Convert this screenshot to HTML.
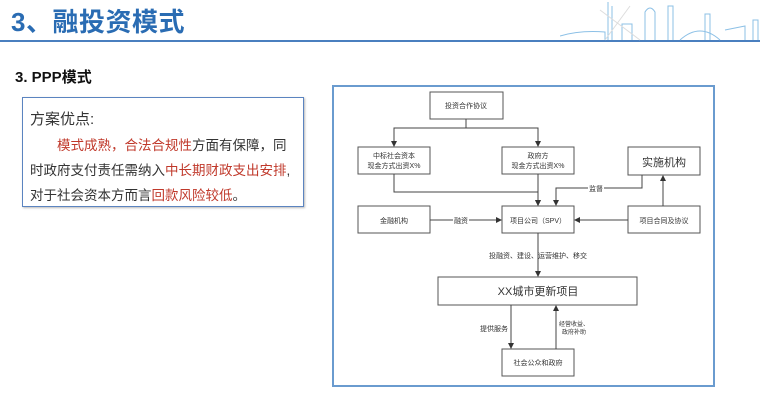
<!DOCTYPE html>
<html><head><meta charset="utf-8"><style>
body{margin:0;width:760px;height:419px;background:#fff;position:relative;overflow:hidden;font-family:"Liberation Sans","Noto Sans CJK SC",sans-serif}
.t{position:absolute;left:11px;top:2px;font-size:26px;font-weight:bold;color:#2a6cb3;letter-spacing:0.5px;white-space:nowrap}
.hl{position:absolute;left:0;top:40px;width:760px;height:2px;background:#4a7fbf}
.s{position:absolute;left:15px;top:66px;font-size:15px;font-weight:bold;color:#111;white-space:nowrap}
.b{position:absolute;left:22px;top:97px;width:280px;height:108px;border:1px solid #5b84c0;box-shadow:1px 1px 2px #bbb}
.b div{position:absolute;left:7px;font-size:13.5px;color:#333;white-space:nowrap}
.r{color:#c0392b}
</style></head><body>
<div class="t">3、融投资模式</div>
<div class="hl"></div>
<svg style="position:absolute;left:560px;top:0" width="200" height="42" viewBox="0 0 200 42" fill="none" stroke="#8cc0e6" stroke-width="1">
<path d="M0 36 Q20 30 45 32 L45 40"/><path d="M48 40 L48 2 M52 40 L52 6"/><path d="M62 40 L62 24 L72 24 L72 40"/><path d="M85 40 L85 12 Q90 4 95 12 L95 40"/><path d="M108 40 L108 6 L113 6 L113 40"/><path d="M120 40 Q140 22 160 40"/><path d="M145 40 L145 14 L150 14 L150 40"/><path d="M165 30 L185 26 L185 40"/><path d="M193 40 L193 20 L198 20 L198 40"/>
<path d="M40 10 L80 40 M70 6 L45 40" stroke="#ddd"/>
</svg>
<div class="s">3. PPP模式</div>
<div class="b">
<div style="top:10px;font-size:15px">方案优点:</div>
<div style="top:36px">　　<span class="r">模式成熟，合法合规性</span>方面有保障，同</div>
<div style="top:61px">时政府支付责任需纳入<span class="r">中长期财政支出安排</span>,</div>
<div style="top:86px">对于社会资本方而言<span class="r">回款风险较低</span>。</div>
</div>
<svg style="position:absolute;left:0;top:0" width="760" height="419" font-family="Liberation Sans,Noto Sans CJK SC,sans-serif">
<defs><marker id="a" markerWidth="6" markerHeight="6" refX="5" refY="3" orient="auto"><path d="M0 0 L6 3 L0 6z" fill="#333"/></marker></defs>
<rect x="333" y="86" width="381" height="300" fill="#fff" stroke="#6a9bcf" stroke-width="2"/>
<g fill="#fff" stroke="#555" stroke-width="1">
<rect x="430" y="92" width="73" height="27"/>
<rect x="358" y="147" width="72" height="27"/>
<rect x="502" y="147" width="72" height="27"/>
<rect x="628" y="147" width="72" height="28"/>
<rect x="358" y="206" width="72" height="27"/>
<rect x="502" y="206" width="72" height="27"/>
<rect x="628" y="206" width="72" height="27"/>
<rect x="438" y="277" width="199" height="28"/>
<rect x="502" y="349" width="72" height="27"/>
</g>
<g stroke="#444" stroke-width="1" fill="none" marker-end="url(#a)">
<path d="M466 119 V128 H394 V146"/>
<path d="M466 128 H538 V146"/>
<path d="M394 174 V192 H538 V205"/>
<path d="M538 174 V205"/>
<path d="M642 175 V188 H556 V205"/>
<path d="M663 206 V176"/>
<path d="M430 220 H501"/>
<path d="M628 220 H575"/>
<path d="M538 233 V276"/>
<path d="M511 305 V348"/>
<path d="M556 349 V306"/>
</g>
<g font-size="7" fill="#333" text-anchor="middle">
<text x="466" y="108">投资合作协议</text>
<text x="394" y="158">中标社会资本</text><text x="394" y="168">现金方式出资X%</text>
<text x="538" y="158">政府方</text><text x="538" y="168">现金方式出资X%</text>
<text x="394" y="223">金融机构</text>
<text x="538" y="223">项目公司（SPV）</text>
<text x="664" y="223">项目合同及协议</text>
<rect x="453" y="214" width="16" height="10" fill="#fff"/><text x="461" y="223">融资</text>
<rect x="588" y="183" width="16" height="10" fill="#fff"/><text x="596" y="191">监督</text>
<text x="538" y="258">投融资、建设、运营维护、移交</text>
<text x="494" y="331">提供服务</text>
<text x="574" y="326" font-size="6">经营收益、</text><text x="574" y="334" font-size="6">政府补助</text>
<text x="538" y="365">社会公众和政府</text>
</g>
<text x="664" y="166" font-size="11" fill="#333" text-anchor="middle">实施机构</text>
<text x="538" y="295" font-size="11" fill="#333" text-anchor="middle">XX城市更新项目</text>
</svg>
</body></html>
